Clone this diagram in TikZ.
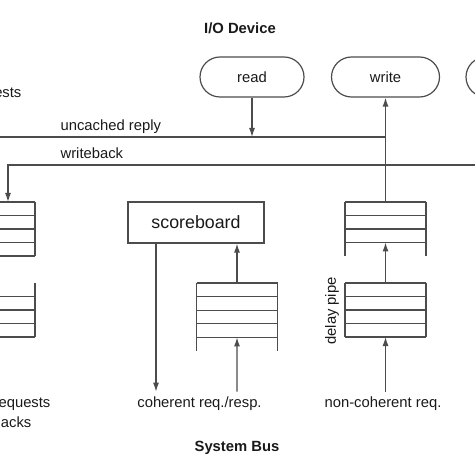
\documentclass[tikz,border=0pt]{standalone}
\usepackage{fontspec}
\setmainfont{Liberation Sans}
\usepackage{tikz}
\usetikzlibrary{positioning}
\usetikzlibrary{calc}
\usetikzlibrary{arrows.meta}

\newcommand{\lblfont}{\fontsize{7.4}{9}\selectfont}
\newcommand{\sbfont}{\fontsize{8.9}{11}\selectfont}

\begin{document}
\begin{tikzpicture}[x=0.5pt, y=-0.5pt, line width=0.6pt, color=black!70,
  txt/.style={inner sep=0pt, font=\lblfont, text=black!90},
  pill/.style={draw, rounded corners=10pt, minimum height=20pt, font=\lblfont, text=black!90},
  queue/.style={minimum width=40.5pt, inner sep=0pt, outer sep=0pt},
  arr/.style={-{Latex[length=4.5pt,width=3pt]}}]
\useasboundingbox (0,0) rectangle (474,474);

% I/O device side
\node[txt, font=\lblfont\bfseries, anchor=base] (iodev) at (240,34) {I/O Device};
\node[pill, minimum width=52pt] (read) at (252,77) {read};
\node[pill, minimum width=54pt] (write) at (385.5,77) {write};
\node[pill, minimum width=54pt] (other) at (520,77) {};

% queues
\node[queue, minimum height=27pt] (lq1) at (-5.5,229) {};
\node[queue, minimum height=27pt] (lq2) at (-5.5,310) {};
\node[queue, minimum height=27pt] (uq) at (385.5,229) {};
\node[queue, minimum height=27pt] (dp) at (385.5,310) {};
\node[queue, minimum height=34pt] (cq) at (237,317) {};
\node[draw, minimum width=68pt, minimum height=20.5pt, font=\sbfont, text=black!90] (sb) at (196,222.5) {scoreboard};

\foreach \q in {lq1,lq2,uq,dp,cq}
  \draw (\q.north west) -- (\q.south west) (\q.north east) -- (\q.south east);
\foreach \f in {0,0.25,0.5,0.75,1}
  \draw ($(lq1.north west)!\f!(lq1.south west)$) -- ($(lq1.north east)!\f!(lq1.south east)$);
\foreach \f in {0.25,0.5,0.75,1}
  \draw ($(lq2.north west)!\f!(lq2.south west)$) -- ($(lq2.north east)!\f!(lq2.south east)$);
\foreach \f in {0,0.25,0.5,0.75}
  \draw ($(uq.north west)!\f!(uq.south west)$) -- ($(uq.north east)!\f!(uq.south east)$);
\foreach \f in {0,0.25,0.5,0.75,1}
  \draw ($(dp.north west)!\f!(dp.south west)$) -- ($(dp.north east)!\f!(dp.south east)$);
\foreach \f in {0,0.2,0.4,0.6,0.8}
  \draw ($(cq.north west)!\f!(cq.south west)$) -- ($(cq.north east)!\f!(cq.south east)$);

% replies and writebacks
\coordinate (ucW) at (-10,137);
\coordinate (ucE) at (write.south |- ucW);
\coordinate (wbE) at (484,165);
\coordinate (wbW) at (8,165);
\draw (ucW) -- (ucE);
\draw[arr] (read.south) -- (read.south |- ucW);
\draw[arr] (wbE) -- (wbW) -- (wbW |- lq1.north);
\node[txt, anchor=base west] (ucl) at (60,131) {uncached reply};
\node[txt, anchor=base west] (wbl) at (60,159) {writeback};
\node[txt, anchor=base east] (req) at (22,98) {ests};

% system bus side
\node[txt, anchor=base] (cohr) at (199.5,407) {coherent req./resp.};
\node[txt, anchor=base] (ncr) at (383,407) {non-coherent req.};
\node[txt, anchor=base east] (lreq) at (51,407) {equests};
\node[txt, anchor=base east] (lwb) at (32,427) {acks};
\node[txt, font=\lblfont\bfseries, anchor=base] (sysbus) at (237,451) {System Bus};
\node[txt, rotate=90] (dpl) at (332,311) {delay pipe};

\coordinate (sbL) at (156,0);
\draw[arr] (sb.south -| sbL) -- ([yshift=2pt]cohr.north -| sbL);
\draw[arr] ([yshift=2pt]cohr.north -| cq.south) -- ($(cq.north)!0.8!(cq.south)$);
\draw[arr] (cq.north) -- (cq.north |- sb.south);
\draw[arr] ([yshift=2pt]ncr.north -| dp.south) -- (dp.south);
\draw[arr] (dp.north) -- ($(uq.north)!0.75!(uq.south)$);
\draw[arr] (uq.north) -- (write.south);
\end{tikzpicture}
\end{document}
